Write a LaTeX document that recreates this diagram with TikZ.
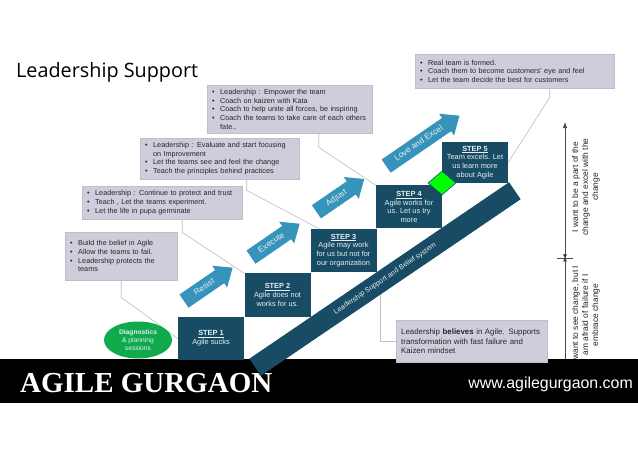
\documentclass[tikz,border=0pt]{standalone}
\usepackage{fontspec}
\setmainfont{Liberation Sans}
\newfontfamily\titlefont{Open Sans}
\newfontfamily\bannerfont{Liberation Serif}
\usepackage{xcolor}
\usetikzlibrary{arrows.meta,positioning,calc,backgrounds,shapes.geometric,shapes.arrows}
\definecolor{stepteal}{RGB}{24,76,100}
\definecolor{arrowblue}{RGB}{54,148,186}
\definecolor{notegray}{RGB}{206,205,219}
\definecolor{noteline}{RGB}{190,190,196}
\definecolor{stepgreen}{RGB}{14,170,76}
\definecolor{softwhite}{RGB}{232,238,242}
\newcommand{\noteitem}[1]{\hangindent=8bp\hangafter=1\noindent\makebox[8bp][l]{\textbullet}#1\par}

\begin{document}
\begin{tikzpicture}[
    x=1bp, y=-1bp,
    >=Latex,
    stepbox/.style={fill=stepteal, text=softwhite, align=center, font=\fontsize{7.4bp}{8.8bp}\selectfont, inner sep=0pt, minimum width=66bp, minimum height=43bp},
    note/.style={draw=noteline, fill=notegray, text=black!85, anchor=north west, inner xsep=5bp, inner ysep=0pt, align=left, font=\fontsize{7.25bp}{8.7bp}\selectfont},
    leader/.style={draw=noteline, line width=0.6bp},
    movearrow/.style={single arrow, fill=arrowblue, text=softwhite, rotate=34.5, inner xsep=0pt, inner ysep=4bp, text height=6bp, text depth=1.6bp, font=\fontsize{8.3bp}{9bp}\selectfont,
        single arrow head extend=5.2bp, single arrow tip angle=80, minimum height=#1, minimum width=26bp},
    axistext/.style={rotate=90, align=center, text=black!85, font=\fontsize{8.4bp}{10bp}\selectfont}
]
\useasboundingbox (0,0) rectangle (638,451);

\node[anchor=base west, font=\titlefont\fontsize{19.8bp}{24bp}\selectfont, inner sep=0pt] (title) at (16,78) {Leadership Support};

% scale on the right
\coordinate (axistop) at (565,122);
\coordinate (axismid) at (565,258);
\coordinate (axisend) at (565,362);
\draw[->, black!70, line width=0.7bp] (axismid) -- (axistop);
\draw[black!70, line width=0.7bp] (axismid) -- (axisend);
\draw[black!70, line width=0.7bp] ($(axismid)+(-8,0)$) -- ($(axismid)+(8,0)$);
\fill[black!80] (565,258) -- ++(-2,-3.5) -- ++(4,0) -- cycle;
\fill[black!80] (565,258) -- ++(-2,3.5) -- ++(4,0) -- cycle;
\node[axistext] (wantup) at (586,187) {I want to be a part of the\\change and excel with the\\change};
\node[axistext] (wantdown) at (586,315) {I want to see change, but I\\am afraid of failure if I\\embrace change};

% band at the bottom
\node[fill=black, minimum width=638bp, minimum height=44bp, inner sep=0pt, anchor=north west] (band) at (0,359) {};

\node[fill=stepteal, rotate=34.2, minimum width=314bp, minimum height=20.6bp, inner sep=0pt, text=softwhite, font=\fontsize{7.2bp}{9bp}\selectfont] (bar) at (385,279) {Leadership Support and Belief system};

\node[anchor=base west, text=white, inner sep=0pt, font=\bannerfont\bfseries\fontsize{29bp}{30bp}\selectfont] (agile) at (20,392) {AGILE GURGAON};
\node[anchor=base east, text=white, inner sep=0pt, font=\fontsize{15.9bp}{18bp}\selectfont] (site) at (633,388) {www.agilegurgaon.com};

% the stairs
\node[stepbox] (step1) at (211,338.5) {\textbf{\underline{STEP 1}}\\Agile sucks};
\node[stepbox] (step2) at (277.5,295) {\textbf{\underline{STEP 2}}\\Agile does not\\works for us.};
\node[stepbox] (step3) at (343.5,250.5) {\textbf{\underline{STEP 3}}\\Agile may work\\for us but not for\\our organization};
\node[stepbox] (step4) at (409,207) {\textbf{\underline{STEP 4}}\\Agile works for\\us. Let us try\\more};
\node[stepbox, minimum height=41bp] (step5) at (475,162.5) {\textbf{\underline{STEP 5}}\\Team excels. Let\\us learn more\\about Agile};
\node[diamond, draw=stepteal, fill=green, inner sep=0pt, minimum width=28bp, minimum height=24bp, line width=0.6bp] (joint) at (442,183) {};
\node[ellipse, fill=stepgreen, text=softwhite, inner sep=0pt, minimum width=68bp, minimum height=37bp, align=center, font=\fontsize{6.7bp}{8bp}\selectfont] (diag) at (138,340) {\textbf{Diagnostics}\\\&\ planning\\sessions};

\node[movearrow=59bp] (resist) at (204.4,287.1) {Resist};
\node[movearrow=59bp] (execute) at (271.4,243.1) {Execute};
\node[movearrow=58bp] (adjust) at (336.4,198.1) {Adjust};
\node[movearrow=89bp] (love) at (418.9,143.6) {Love and Excel};

% notes
\node[note, text width=102bp, minimum height=48bp] (note1) at (65,232) {\noteitem{Build the belief in Agile}\noteitem{Allow the teams to fail.}\noteitem{Leadership protects the teams}};
\node[note, text width=150bp, minimum height=33bp] (note2) at (82,186) {\noteitem{Leadership : Continue to protect and trust}\noteitem{Teach , Let the teams experiment.}\noteitem{Let the life in pupa germinate}};
\node[note, text width=149bp, minimum height=41bp] (note3) at (140,138) {\noteitem{Leadership : Evaluate and start focusing on Improvement}\noteitem{Let the teams see and feel the change}\noteitem{Teach the principles behind practices}};
\node[note, text width=155bp, minimum height=48bp] (note4) at (207,85) {\noteitem{Leadership : Empower the team}\noteitem{Coach on kaizen with Kata}\noteitem{Coach to help unite all forces, be inspiring}\noteitem{Coach the teams to take care of each others fate..}};
\node[note, text width=189bp, minimum height=34bp] (note5) at (415,54) {\noteitem{Real team is formed.}\noteitem{Coach them to become customers' eye and feel}\noteitem{Let the team decide the best for customers}};
\node[note, text width=141bp, minimum height=42bp, font=\fontsize{7.85bp}{9.7bp}\selectfont] (note6) at (396,320) {Leadership \textbf{believes} in Agile. Supports\\transformation with fast failure and\\Kaizen mindset};

\begin{scope}[on background layer]
\fill[white] (0,0) rectangle (638,451);
\draw[leader] (note1.south) -- ++(0,17) -- (step1.west);
\draw[leader] ($(note2.south)+(20,0)$) -- ++(0,13) -- (step2.north west);
\draw[leader] ($(note3.south)+(27,0)$) -- ++(0,11) -- ($(step3.north west)+(9,0)$);
\draw[leader] ($(note4.south)+(29,0)$) -- ++(0,14) -- (step4.north west);
\draw[leader] ($(note5.south)+(35,0)$) -- ++(0,9) -- (step5.east);
\draw[leader] (note6.west) -- ++(-16,0) -- ++(0,-50);
\end{scope}
\end{tikzpicture}
\end{document}
